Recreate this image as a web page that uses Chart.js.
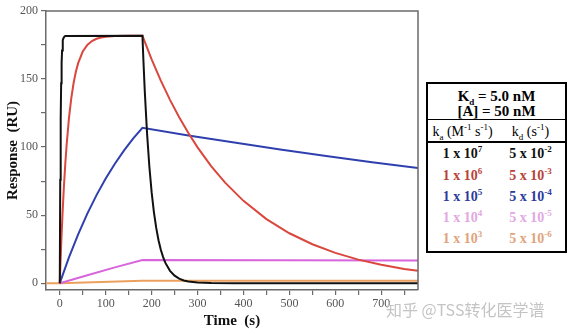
<!DOCTYPE html>
<html>
<head>
<meta charset="utf-8">
<script src="https://cdn.jsdelivr.net/npm/chart.js@4.4.1/dist/chart.umd.min.js"></script>
<style>
  body { margin: 0; background: #fff; }
  #wrap { position: relative; width: 572px; height: 334px; font-family: "Liberation Serif", serif; }
  #tabela { position: absolute; left: 426px; top: 82px; width: 141px; height: 171px;
            box-sizing: border-box; border: 2px solid #000; background: #fff; }
  .lin { position: absolute; left: 0; width: 137px; height: 18px; line-height: 18px;
         text-align: center; font-size: 15px; white-space: nowrap; }
  .lin span { display: inline-block; width: 68px; text-align: center; }
  .lin.r { font-size: 14px; }
  .b { font-weight: bold; }
  .div1 { position: absolute; left: 0; width: 137px; height: 0; border-top: 1.5px solid #000; }
  .div2 { position: absolute; left: 0; width: 137px; height: 0; border-top: 2px solid #000; }
  sup, sub { font-size: 9px; line-height: 0; }
  #marca { position: absolute; left: 386px; top: 297px; font-family: "Noto Sans CJK SC", sans-serif;
           font-size: 16px; color: #c4c4c4; white-space: nowrap; }
</style>
</head>
<body>
<div id="wrap">
  <canvas id="grafico" width="572" height="334"></canvas>

  <div id="tabela">
    <div class="lin b" style="top:3px">K<sub>d</sub> = 5.0 nM</div>
    <div class="lin b" style="top:18px">[A] = 50 nM</div>
    <div class="div1" style="top:35px"></div>
    <div class="lin" style="top:39px;font-size:14px"><span>k<sub>a</sub> (M<sup>-1</sup> s<sup>-1</sup>)</span><span>k<sub>d</sub> (s<sup>-1</sup>)</span></div>
    <div class="div2" style="top:57px"></div>
    <div class="lin b r" style="top:61px;color:#111"><span>1 x 10<sup>7</sup></span><span>5 x 10<sup>-2</sup></span></div>
    <div class="lin b r" style="top:83px;color:#b8423a"><span>1 x 10<sup>6</sup></span><span>5 x 10<sup>-3</sup></span></div>
    <div class="lin b r" style="top:104px;color:#2c3b9c"><span>1 x 10<sup>5</sup></span><span>5 x 10<sup>-4</sup></span></div>
    <div class="lin b r" style="top:125px;color:#e2a8e2"><span>1 x 10<sup>4</sup></span><span>5 x 10<sup>-5</sup></span></div>
    <div class="lin b r" style="top:146px;color:#e0a47c"><span>1 x 10<sup>3</sup></span><span>5 x 10<sup>-6</sup></span></div>
  </div>

  <div id="marca">知乎 @TSS转化医学谱</div>
</div>

<script>
// ------------ Dados ------------ //

// ka = 1e7, kd = 5e-2 (preto)
var tempoPreto = [0, 1, 2, 3, 4, 5, 6, 7, 8, 10, 12, 180, 182, 185, 190, 195, 200, 205, 210, 215, 220, 225, 230, 240, 250, 260, 270, 280, 300, 330, 380, 780];
var respPreto  = [0, 76, 121, 147, 162, 171, 176, 178.5, 180, 181.2, 181.7, 181.8, 164.5, 141.6, 110.3, 85.9, 66.9, 52.1, 40.6, 31.6, 24.6, 19.2, 14.9, 9.1, 5.5, 3.3, 2.0, 1.2, 0.45, 0.1, 0, 0];

// ka = 1e6, kd = 5e-3 (vermelho)
var tempoVermelho = [0, 3, 6, 9, 12, 15, 20, 25, 30, 35, 40, 50, 60, 70, 80, 90, 100, 120, 150, 180,
                     200, 220, 240, 260, 280, 300, 330, 360, 400, 450, 500, 550, 600, 650, 700, 750, 780];
var respVermelho  = [0, 27.7, 51.1, 71.0, 87.8, 102.1, 121.3, 135.8, 146.9, 155.3, 161.7, 170.2, 175.1, 177.9, 179.6, 180.5, 181.1, 181.6, 181.8, 181.8,
                     164.5, 148.8, 134.7, 121.9, 110.3, 99.8, 85.9, 73.9, 60.5, 47.1, 36.7, 28.6, 22.3, 17.3, 13.5, 10.5, 9.1];

// ka = 1e5, kd = 5e-4 (azul)
var tempoAzul = [0, 20, 40, 60, 80, 100, 120, 140, 160, 180, 280, 380, 480, 580, 680, 780];
var respAzul  = [0, 18.9, 35.9, 51.1, 64.7, 76.9, 87.8, 97.6, 106.4, 114.2, 108.6, 103.3, 98.3, 93.5, 88.9, 84.6];

// ka = 1e4, kd = 5e-5 (magenta)
var tempoMagenta = [0, 60, 120, 180, 780];
var respMagenta  = [0, 5.9, 11.6, 17.1, 16.6];

// ka = 1e3, kd = 5e-6 (laranja)
var tempoLaranja = [-30, 0, 180, 780];
var respLaranja  = [0, 0, 1.8, 1.75];

var ticksX = [0, 50, 100, 150, 200, 250, 300, 350, 400, 450, 500, 550, 600, 650, 700, 750];
var rotulosX = [0, 100, 200, 300, 400, 500, 600, 700];
var ticksY = [0, 25, 50, 75, 100, 125, 150, 175, 200];
var rotulosY = [0, 50, 100, 150, 200];

// ------------ Montagem das séries ------------ //

function pontos(tempos, valores) {
    return tempos.map(function (t, i) { return { x: t, y: valores[i] }; });
}

function serie(tempos, valores, cor) {
    return {
        data: pontos(tempos, valores),
        borderColor: cor,
        borderWidth: 2,
        pointRadius: 0,
        tension: 0,
        fill: false
    };
}

// caixa em volta da área do gráfico (topo e direita)
var caixa = {
    id: 'caixa',
    afterDatasetsDraw: function (chart) {
        var a = chart.chartArea, ctx = chart.ctx;
        ctx.save();
        ctx.strokeStyle = '#6a6a6a';
        ctx.lineWidth = 1.5;
        ctx.beginPath();
        ctx.moveTo(a.left, a.top);
        ctx.lineTo(a.right, a.top);
        ctx.lineTo(a.right, a.bottom);
        ctx.stroke();
        ctx.restore();
    }
};

var fonteTicks = { family: 'Liberation Serif', size: 12 };
var fonteTitulo = { family: 'Liberation Serif', size: 15, weight: 'bold' };

new Chart(document.getElementById('grafico').getContext('2d'), {
    type: 'line',
    data: {
        datasets: [
            serie(tempoPreto, respPreto, '#111111'),
            serie(tempoVermelho, respVermelho, '#d9473d'),
            serie(tempoAzul, respAzul, '#2f40ae'),
            serie(tempoMagenta, respMagenta, '#d865dc'),
            serie(tempoLaranja, respLaranja, '#eba05e')
        ]
    },
    options: {
        responsive: false,
        animation: false,
        layout: { padding: { top: 11, right: 154, left: 0, bottom: 0 } },
        plugins: { legend: { display: false }, tooltip: { enabled: false } },
        scales: {
            x: {
                type: 'linear',
                min: -30,
                max: 780,
                afterBuildTicks: function (s) { s.ticks = ticksX.map(function (v) { return { value: v }; }); },
                afterFit: function (s) { s.height = 44; },
                ticks: {
                    font: fonteTicks, color: '#555', padding: 2, maxRotation: 0, autoSkip: false,
                    callback: function (v) { return rotulosX.indexOf(v) >= 0 ? String(v) : ''; }
                },
                grid: { drawOnChartArea: false, drawTicks: true, tickLength: 5, color: '#6a6a6a', lineWidth: 1.2 },
                border: { display: true, color: '#6a6a6a', width: 1.5 },
                title: { display: true, text: 'Time  (s)', font: fonteTitulo, color: '#111', padding: { top: 2, bottom: 4 } }
            },
            y: {
                min: -5,
                max: 200,
                afterBuildTicks: function (s) { s.ticks = ticksY.map(function (v) { return { value: v }; }); },
                afterFit: function (s) { s.width = 46; },
                ticks: {
                    font: fonteTicks, color: '#555', padding: 3, autoSkip: false,
                    callback: function (v) { return rotulosY.indexOf(v) >= 0 ? String(v) : ''; }
                },
                grid: { drawOnChartArea: false, drawTicks: true, tickLength: 5, color: '#6a6a6a', lineWidth: 1.2 },
                border: { display: true, color: '#6a6a6a', width: 1.5 },
                title: { display: true, text: 'Response  (RU)', font: fonteTitulo, color: '#111', padding: { top: 4, bottom: 4 } }
            }
        }
    },
    plugins: [caixa]
});
</script>
</body>
</html>
